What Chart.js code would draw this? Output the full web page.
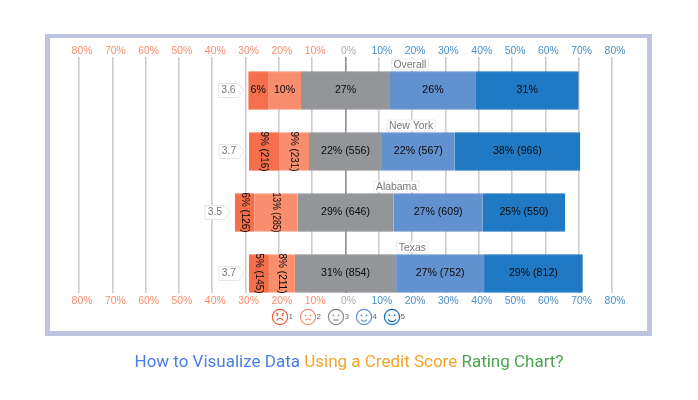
<!DOCTYPE html>
<html>
<head>
<meta charset="utf-8">
<style>
html,body{margin:0;padding:0;background:#fff;width:698px;height:400px;overflow:hidden}
#frame{position:absolute;left:45px;top:34px;width:597px;height:293px;border:5px solid #BEC3DF;border-top-width:4px}
#wrap{position:absolute;left:0;top:0;width:698px;height:400px}
#title{position:absolute;left:0;top:351px;width:698px;text-align:center;font:17px Roboto,sans-serif;white-space:nowrap}
</style>
<script src="https://cdn.jsdelivr.net/npm/chart.js@4"></script>
</head>
<body>
<div id="frame"></div>
<div id="wrap"><canvas id="c" width="698" height="400"></canvas></div>
<div id="title"><span style="color:#4A7EE6">How to Visualize Data </span><span style="color:#F5A32A">Using a Credit Score </span><span style="color:#4DA34F">Rating Chart?</span></div>
<script>
const categories = ["Overall", "New York", "Alabama", "Texas"];
const scores = ["3.6", "3.7", "3.5", "3.7"];
const levelNames = ["1", "2", "3", "4", "5"];
// share of answers per rating level (%)
const level1 = [5.9, 9.0, 5.9, 6.0];
const level2 = [9.9, 9.0, 12.9, 7.8];
const level3 = [26.7, 21.9, 28.8, 30.4];
const level4 = [25.8, 21.8, 26.8, 26.4];
const level5 = [30.8, 37.7, 24.7, 29.6];
// printed labels
const pct1 = [6, 9, 6, 5];
const pct2 = [10, 9, 13, 8];
const pct3 = [27, 22, 29, 31];
const pct4 = [26, 22, 27, 27];
const pct5 = [31, 38, 25, 29];
const count1 = [null, 216, 126, 145];
const count2 = [null, 231, 285, 211];
const count3 = [null, 556, 646, 854];
const count4 = [null, 567, 609, 752];
const count5 = [null, 966, 550, 812];
const levelColors = ["#F4704D", "#F98E6F", "#939598", "#6291CF", "#2079C3"];
const levelBorders = ["#F2603A", "#F98E6F", "#8B8D90", "#5F8DCC", "#0F6DBA"];
const faceColors = ["#F05A3C", "#F98E6F", "#858585", "#5C8FD3", "#146DB6"];

const pcts = [pct1, pct2, pct3, pct4, pct5];
const counts = [count1, count2, count3, count4, count5];

// Diverging layout: the neutral level straddles zero.
function segments(i) {
  const n = level3[i] / 2;
  return [
    [-n - level2[i] - level1[i], -n - level2[i]],
    [-n - level2[i], -n],
    [-n, n],
    [n, n + level4[i]],
    [n + level4[i], n + level4[i] + level5[i]]
  ];
}
const datasets = levelNames.map((name, l) => ({
  label: name,
  data: categories.map((_, i) => ({ x: segments(i)[l], y: i })),
  backgroundColor: levelColors[l],
  borderColor: levelBorders[l],
  borderWidth: { top: 1, bottom: 1, left: 0, right: 0 },
  borderSkipped: false,
  barThickness: 38,
  grouped: false
}));

const tickColor = v => v < 0 ? "#F98C6F" : v > 0 ? "#4A90C9" : "#ABABAB";
const axisFont = { family: "'Liberation Sans', Arial, sans-serif", size: 10.4 };
const fontStr = s => s + "px 'Liberation Sans', Arial, sans-serif";

function drawFace(ctx, cx, cy, r, color, l) {
  ctx.save();
  ctx.strokeStyle = color; ctx.fillStyle = color; ctx.lineWidth = 1.2;
  ctx.beginPath(); ctx.arc(cx, cy, r, 0, Math.PI * 2); ctx.stroke();
  [-1, 1].forEach(s => {
    ctx.beginPath(); ctx.arc(cx + s * 2.6, cy - 1.7, 0.9, 0, Math.PI * 2); ctx.fill();
  });
  ctx.beginPath();
  if (l === 0) { ctx.arc(cx, cy + 5, 3.6, Math.PI * 1.15, Math.PI * 1.85); }
  if (l === 1) { ctx.arc(cx, cy + 5.4, 3.4, Math.PI * 1.2, Math.PI * 1.8); }
  if (l === 2) { ctx.moveTo(cx - 2.8, cy + 3); ctx.lineTo(cx + 2.8, cy + 3); }
  if (l === 3) { ctx.arc(cx, cy + 0.6, 3.6, Math.PI * 0.2, Math.PI * 0.8); }
  if (l === 4) { ctx.arc(cx, cy + 0.2, 4.4, Math.PI * 0.15, Math.PI * 0.85); }
  ctx.stroke();
  if (l === 0) {
    [-1, 1].forEach(s => {
      ctx.beginPath(); ctx.moveTo(cx + s * 4, cy - 3.6); ctx.lineTo(cx + s * 1.6, cy - 2.8); ctx.stroke();
    });
  }
  ctx.restore();
}

const annotate = {
  id: "annotate",
  afterDatasetsDraw(chart) {
    const { ctx, scales } = chart;
    const x = scales.x, y = scales.y;
    ctx.save();
    ctx.textBaseline = "middle";
    categories.forEach((name, i) => {
      const segs = segments(i);
      const cy = y.getPixelForValue(i);
      const top = cy - 19;
      // value labels
      ctx.fillStyle = "#0A0A0A";
      ctx.textAlign = "center";
      ctx.font = fontStr(10.6);
      segs.forEach((s, l) => {
        const a = x.getPixelForValue(s[0]), b = x.getPixelForValue(s[1]);
        const txt = pcts[l][i] + "%" + (counts[l][i] !== null ? " (" + counts[l][i] + ")" : "");
        const w = ctx.measureText(txt).width;
        const mx = (a + b) / 2;
        if (w > b - a - 2) {
          ctx.save();
          ctx.translate(mx, cy);
          ctx.rotate(Math.PI / 2);
          ctx.fillText(txt, 0, 0, 40);
          ctx.restore();
        } else {
          ctx.fillText(txt, mx, cy);
        }
      });
      // category tag above the bar
      const left = x.getPixelForValue(segs[0][0]), right = x.getPixelForValue(segs[4][1]);
      const cx = (left + right) / 2 - 3.5;
      ctx.font = fontStr(10.4);
      const tw = ctx.measureText(name).width + 4;
      ctx.fillStyle = "#fff";
      ctx.strokeStyle = "#ECECEC";
      ctx.lineWidth = 1;
      ctx.fillRect(cx - tw / 2, top - 12.5, tw, 11);
      ctx.strokeRect(cx - tw / 2, top - 12.5, tw, 11);
      ctx.fillStyle = "#777";
      ctx.fillText(name, cx, top - 6.8);
      // score tag left of the bar
      const tip = left - 5;
      ctx.beginPath();
      ctx.moveTo(tip - 25, cy - 7);
      ctx.lineTo(tip - 5, cy - 7);
      ctx.lineTo(tip, cy);
      ctx.lineTo(tip - 5, cy + 7);
      ctx.lineTo(tip - 25, cy + 7);
      ctx.closePath();
      ctx.fillStyle = "#fff";
      ctx.fill();
      ctx.strokeStyle = "#E6E6E6";
      ctx.stroke();
      ctx.fillStyle = "#777";
      ctx.font = fontStr(10.4);
      ctx.fillText(scores[i], tip - 15, cy);
    });
    // legend faces
    const n = levelNames.length, gap = 28;
    const lx0 = 336 - gap * (n - 1) / 2, ly = 317;
    levelNames.forEach((name, l) => {
      const cx = lx0 + gap * l;
      drawFace(ctx, cx, ly, 7.6, faceColors[l], l);
      ctx.fillStyle = "#666";
      ctx.font = fontStr(8);
      ctx.textAlign = "left";
      ctx.fillText(name, cx + 8.6, ly);
    });
    ctx.restore();
  }
};

new Chart(document.getElementById("c"), {
  type: "bar",
  data: { datasets },
  plugins: [annotate],
  options: {
    indexAxis: "y",
    responsive: false,
    animation: false,
    devicePixelRatio: 1,
    layout: { padding: { left: 79, right: 86, top: 44, bottom: 93 } },
    plugins: { legend: { display: false }, tooltip: { enabled: false }, title: { display: false } },
    scales: {
      x: {
        type: "linear", position: "top", min: -80, max: 80,
        afterFit(s) { s.height = 13; },
        border: { display: false },
        grid: {
          drawTicks: false,
          lineWidth: 1.6,
          color: c => c.tick && c.tick.value === 0 ? "#8F8F8F" : "#CDCDCD"
        },
        ticks: {
          stepSize: 10, autoSkip: false, maxRotation: 0, padding: 0, labelOffset: 3,
          font: axisFont,
          color: c => tickColor(c.tick.value),
          callback: v => Math.abs(v) + "%"
        }
      },
      x2: {
        type: "linear", position: "bottom", min: -80, max: 80,
        afterFit(s) { s.height = 14; },
        border: { display: false },
        grid: { display: false, drawTicks: false },
        ticks: {
          stepSize: 10, autoSkip: false, maxRotation: 0, padding: 2, labelOffset: 3,
          font: axisFont,
          color: c => tickColor(c.tick.value),
          callback: v => Math.abs(v) + "%"
        }
      },
      y: {
        type: "linear", display: false, reverse: true, min: -0.549, max: 3.32,
        offset: false, grid: { display: false }
      }
    }
  }
});
</script>
</body>
</html>
